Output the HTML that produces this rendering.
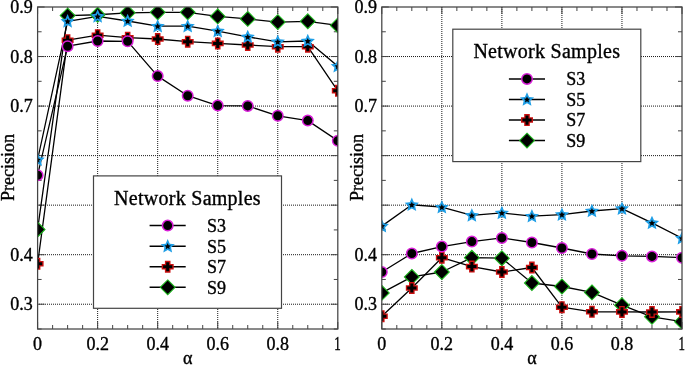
<!DOCTYPE html>
<html><head><meta charset="utf-8"><style>
html,body{margin:0;padding:0;background:#fff;width:685px;height:366px;overflow:hidden}
svg{display:block}
text{font-family:"Liberation Serif","DejaVu Serif",serif;fill:#000;stroke:#000;stroke-width:0.35px}
</style></head><body>
<svg width="685" height="366" viewBox="0 0 685 366">
<defs>
<clipPath id="c0"><rect x="37.6" y="7" width="300.2" height="322"/></clipPath>
<clipPath id="c1"><rect x="381.8" y="7" width="300.2" height="322"/></clipPath>
</defs>
<rect width="685" height="366" fill="#fff"/>
<path d="M97.64 7V329M157.68 7V329M217.72 7V329M277.76 7V329M37 56.54H337.8M37 106.08H337.8M37 155.62H337.8M37 205.15H337.8M37 254.69H337.8M37 304.23H337.8" stroke="#1a1a1a" stroke-width="1" stroke-dasharray="1 1" fill="none"/>
<path d="M37.6 329v-7M37.6 7v7M52.61 329v-4M52.61 7v4M67.62 329v-4M67.62 7v4M82.63 329v-4M82.63 7v4M97.64 329v-7M97.64 7v7M112.65 329v-4M112.65 7v4M127.66 329v-4M127.66 7v4M142.67 329v-4M142.67 7v4M157.68 329v-7M157.68 7v7M172.69 329v-4M172.69 7v4M187.7 329v-4M187.7 7v4M202.71 329v-4M202.71 7v4M217.72 329v-7M217.72 7v7M232.73 329v-4M232.73 7v4M247.74 329v-4M247.74 7v4M262.75 329v-4M262.75 7v4M277.76 329v-7M277.76 7v7M292.77 329v-4M292.77 7v4M307.78 329v-4M307.78 7v4M322.79 329v-4M322.79 7v4M337.8 329v-7M337.8 7v7M37.6 7h7M337.8 7h-7M37.6 31.77h4M337.8 31.77h-4M37.6 56.54h7M337.8 56.54h-7M37.6 81.31h4M337.8 81.31h-4M37.6 106.08h7M337.8 106.08h-7M37.6 130.85h4M337.8 130.85h-4M37.6 155.62h7M337.8 155.62h-7M37.6 180.38h4M337.8 180.38h-4M37.6 205.15h7M337.8 205.15h-7M37.6 229.92h4M337.8 229.92h-4M37.6 254.69h7M337.8 254.69h-7M37.6 279.46h4M337.8 279.46h-4M37.6 304.23h7M337.8 304.23h-7M37.6 329h4M337.8 329h-4" stroke="#444" stroke-width="1" fill="none"/>
<g clip-path="url(#c0)">
<polyline points="37.6,229.5 67.62,15.6 97.64,14.75 127.66,12.8 157.68,12.3 187.7,12.3 217.72,16.4 247.74,18.9 277.76,22.1 307.78,21.3 337.8,25.4" fill="none" stroke="#000" stroke-width="1.3" stroke-linejoin="round"/>
<polyline points="37.6,263.8 67.62,40.2 97.64,35.2 127.66,37.7 157.68,39 187.7,41.7 217.72,43.4 247.74,45 277.76,46.7 307.78,46.7 337.8,90.8" fill="none" stroke="#000" stroke-width="1.3" stroke-linejoin="round"/>
<polyline points="37.6,159.7 67.62,21.3 97.64,16.4 127.66,21 157.68,26.2 187.7,26.2 217.72,31.1 247.74,36.9 277.76,41.8 307.78,41 337.8,66.2" fill="none" stroke="#000" stroke-width="1.3" stroke-linejoin="round"/>
<polyline points="37.6,175.2 67.62,46.2 97.64,41 127.66,41.3 157.68,76.1 187.7,95.7 217.72,105.6 247.74,105.9 277.76,115.8 307.78,120.6 337.8,140.7" fill="none" stroke="#000" stroke-width="1.3" stroke-linejoin="round"/>
<polygon points="37.6,222.1 45,229.5 37.6,236.9 30.2,229.5" fill="#000" stroke="#1cb41c" stroke-width="1.1"/>
<polygon points="67.62,8.2 75.02,15.6 67.62,23 60.22,15.6" fill="#000" stroke="#1cb41c" stroke-width="1.1"/>
<polygon points="97.64,7.35 105.04,14.75 97.64,22.15 90.24,14.75" fill="#000" stroke="#1cb41c" stroke-width="1.1"/>
<polygon points="127.66,5.4 135.06,12.8 127.66,20.2 120.26,12.8" fill="#000" stroke="#1cb41c" stroke-width="1.1"/>
<polygon points="157.68,4.9 165.08,12.3 157.68,19.7 150.28,12.3" fill="#000" stroke="#1cb41c" stroke-width="1.1"/>
<polygon points="187.7,4.9 195.1,12.3 187.7,19.7 180.3,12.3" fill="#000" stroke="#1cb41c" stroke-width="1.1"/>
<polygon points="217.72,9 225.12,16.4 217.72,23.8 210.32,16.4" fill="#000" stroke="#1cb41c" stroke-width="1.1"/>
<polygon points="247.74,11.5 255.14,18.9 247.74,26.3 240.34,18.9" fill="#000" stroke="#1cb41c" stroke-width="1.1"/>
<polygon points="277.76,14.7 285.16,22.1 277.76,29.5 270.36,22.1" fill="#000" stroke="#1cb41c" stroke-width="1.1"/>
<polygon points="307.78,13.9 315.18,21.3 307.78,28.7 300.38,21.3" fill="#000" stroke="#1cb41c" stroke-width="1.1"/>
<polygon points="337.8,18 345.2,25.4 337.8,32.8 330.4,25.4" fill="#000" stroke="#1cb41c" stroke-width="1.1"/>
<path d="M34.8 257.8h5.6v3.2h3.2v5.6h-3.2v3.2h-5.6v-3.2h-3.2v-5.6h3.2z" fill="#cc1010"/><path d="M36.1 259.2h3v3.1h3.1v3h-3.1v3.1h-3v-3.1h-3.1v-3h3.1z" fill="#000"/>
<path d="M64.82 34.2h5.6v3.2h3.2v5.6h-3.2v3.2h-5.6v-3.2h-3.2v-5.6h3.2z" fill="#cc1010"/><path d="M66.12 35.6h3v3.1h3.1v3h-3.1v3.1h-3v-3.1h-3.1v-3h3.1z" fill="#000"/>
<path d="M94.84 29.2h5.6v3.2h3.2v5.6h-3.2v3.2h-5.6v-3.2h-3.2v-5.6h3.2z" fill="#cc1010"/><path d="M96.14 30.6h3v3.1h3.1v3h-3.1v3.1h-3v-3.1h-3.1v-3h3.1z" fill="#000"/>
<path d="M124.86 31.7h5.6v3.2h3.2v5.6h-3.2v3.2h-5.6v-3.2h-3.2v-5.6h3.2z" fill="#cc1010"/><path d="M126.16 33.1h3v3.1h3.1v3h-3.1v3.1h-3v-3.1h-3.1v-3h3.1z" fill="#000"/>
<path d="M154.88 33h5.6v3.2h3.2v5.6h-3.2v3.2h-5.6v-3.2h-3.2v-5.6h3.2z" fill="#cc1010"/><path d="M156.18 34.4h3v3.1h3.1v3h-3.1v3.1h-3v-3.1h-3.1v-3h3.1z" fill="#000"/>
<path d="M184.9 35.7h5.6v3.2h3.2v5.6h-3.2v3.2h-5.6v-3.2h-3.2v-5.6h3.2z" fill="#cc1010"/><path d="M186.2 37.1h3v3.1h3.1v3h-3.1v3.1h-3v-3.1h-3.1v-3h3.1z" fill="#000"/>
<path d="M214.92 37.4h5.6v3.2h3.2v5.6h-3.2v3.2h-5.6v-3.2h-3.2v-5.6h3.2z" fill="#cc1010"/><path d="M216.22 38.8h3v3.1h3.1v3h-3.1v3.1h-3v-3.1h-3.1v-3h3.1z" fill="#000"/>
<path d="M244.94 39h5.6v3.2h3.2v5.6h-3.2v3.2h-5.6v-3.2h-3.2v-5.6h3.2z" fill="#cc1010"/><path d="M246.24 40.4h3v3.1h3.1v3h-3.1v3.1h-3v-3.1h-3.1v-3h3.1z" fill="#000"/>
<path d="M274.96 40.7h5.6v3.2h3.2v5.6h-3.2v3.2h-5.6v-3.2h-3.2v-5.6h3.2z" fill="#cc1010"/><path d="M276.26 42.1h3v3.1h3.1v3h-3.1v3.1h-3v-3.1h-3.1v-3h3.1z" fill="#000"/>
<path d="M304.98 40.7h5.6v3.2h3.2v5.6h-3.2v3.2h-5.6v-3.2h-3.2v-5.6h3.2z" fill="#cc1010"/><path d="M306.28 42.1h3v3.1h3.1v3h-3.1v3.1h-3v-3.1h-3.1v-3h3.1z" fill="#000"/>
<path d="M335 84.8h5.6v3.2h3.2v5.6h-3.2v3.2h-5.6v-3.2h-3.2v-5.6h3.2z" fill="#cc1010"/><path d="M336.3 86.2h3v3.1h3.1v3h-3.1v3.1h-3v-3.1h-3.1v-3h3.1z" fill="#000"/>
<polygon points="37.6,152.5 39.66,157.17 44.73,157.68 40.93,161.08 42.01,166.07 37.6,163.5 33.19,166.07 34.27,161.08 30.47,157.68 35.54,157.17" fill="#1e9ee6"/><polygon points="37.6,156.6 38.54,158.71 40.83,158.95 39.12,160.49 39.6,162.75 37.6,161.6 35.6,162.75 36.08,160.49 34.37,158.95 36.66,158.71" fill="#000"/>
<polygon points="67.62,14.1 69.68,18.77 74.75,19.28 70.95,22.68 72.03,27.67 67.62,25.1 63.21,27.67 64.29,22.68 60.49,19.28 65.56,18.77" fill="#1e9ee6"/><polygon points="67.62,18.2 68.56,20.31 70.85,20.55 69.14,22.09 69.62,24.35 67.62,23.2 65.62,24.35 66.1,22.09 64.39,20.55 66.68,20.31" fill="#000"/>
<polygon points="97.64,9.2 99.7,13.87 104.77,14.38 100.97,17.78 102.05,22.77 97.64,20.2 93.23,22.77 94.31,17.78 90.51,14.38 95.58,13.87" fill="#1e9ee6"/><polygon points="97.64,13.3 98.58,15.41 100.87,15.65 99.16,17.19 99.64,19.45 97.64,18.3 95.64,19.45 96.12,17.19 94.41,15.65 96.7,15.41" fill="#000"/>
<polygon points="127.66,13.8 129.72,18.47 134.79,18.98 130.99,22.38 132.07,27.37 127.66,24.8 123.25,27.37 124.33,22.38 120.53,18.98 125.6,18.47" fill="#1e9ee6"/><polygon points="127.66,17.9 128.6,20.01 130.89,20.25 129.18,21.79 129.66,24.05 127.66,22.9 125.66,24.05 126.14,21.79 124.43,20.25 126.72,20.01" fill="#000"/>
<polygon points="157.68,19 159.74,23.67 164.81,24.18 161.01,27.58 162.09,32.57 157.68,30 153.27,32.57 154.35,27.58 150.55,24.18 155.62,23.67" fill="#1e9ee6"/><polygon points="157.68,23.1 158.62,25.21 160.91,25.45 159.2,26.99 159.68,29.25 157.68,28.1 155.68,29.25 156.16,26.99 154.45,25.45 156.74,25.21" fill="#000"/>
<polygon points="187.7,19 189.76,23.67 194.83,24.18 191.03,27.58 192.11,32.57 187.7,30 183.29,32.57 184.37,27.58 180.57,24.18 185.64,23.67" fill="#1e9ee6"/><polygon points="187.7,23.1 188.64,25.21 190.93,25.45 189.22,26.99 189.7,29.25 187.7,28.1 185.7,29.25 186.18,26.99 184.47,25.45 186.76,25.21" fill="#000"/>
<polygon points="217.72,23.9 219.78,28.57 224.85,29.08 221.05,32.48 222.13,37.47 217.72,34.9 213.31,37.47 214.39,32.48 210.59,29.08 215.66,28.57" fill="#1e9ee6"/><polygon points="217.72,28 218.66,30.11 220.95,30.35 219.24,31.89 219.72,34.15 217.72,33 215.72,34.15 216.2,31.89 214.49,30.35 216.78,30.11" fill="#000"/>
<polygon points="247.74,29.7 249.8,34.37 254.87,34.88 251.07,38.28 252.15,43.27 247.74,40.7 243.33,43.27 244.41,38.28 240.61,34.88 245.68,34.37" fill="#1e9ee6"/><polygon points="247.74,33.8 248.68,35.91 250.97,36.15 249.26,37.69 249.74,39.95 247.74,38.8 245.74,39.95 246.22,37.69 244.51,36.15 246.8,35.91" fill="#000"/>
<polygon points="277.76,34.6 279.82,39.27 284.89,39.78 281.09,43.18 282.17,48.17 277.76,45.6 273.35,48.17 274.43,43.18 270.63,39.78 275.7,39.27" fill="#1e9ee6"/><polygon points="277.76,38.7 278.7,40.81 280.99,41.05 279.28,42.59 279.76,44.85 277.76,43.7 275.76,44.85 276.24,42.59 274.53,41.05 276.82,40.81" fill="#000"/>
<polygon points="307.78,33.8 309.84,38.47 314.91,38.98 311.11,42.38 312.19,47.37 307.78,44.8 303.37,47.37 304.45,42.38 300.65,38.98 305.72,38.47" fill="#1e9ee6"/><polygon points="307.78,37.9 308.72,40.01 311.01,40.25 309.3,41.79 309.78,44.05 307.78,42.9 305.78,44.05 306.26,41.79 304.55,40.25 306.84,40.01" fill="#000"/>
<polygon points="337.8,59 339.86,63.67 344.93,64.18 341.13,67.58 342.21,72.57 337.8,70 333.39,72.57 334.47,67.58 330.67,64.18 335.74,63.67" fill="#1e9ee6"/><polygon points="337.8,63.1 338.74,65.21 341.03,65.45 339.32,66.99 339.8,69.25 337.8,68.1 335.8,69.25 336.28,66.99 334.57,65.45 336.86,65.21" fill="#000"/>
<circle cx="37.6" cy="175.2" r="5.25" fill="#000" stroke="#d81ed8" stroke-width="1.5"/>
<circle cx="67.62" cy="46.2" r="5.25" fill="#000" stroke="#d81ed8" stroke-width="1.5"/>
<circle cx="97.64" cy="41" r="5.25" fill="#000" stroke="#d81ed8" stroke-width="1.5"/>
<circle cx="127.66" cy="41.3" r="5.25" fill="#000" stroke="#d81ed8" stroke-width="1.5"/>
<circle cx="157.68" cy="76.1" r="5.25" fill="#000" stroke="#d81ed8" stroke-width="1.5"/>
<circle cx="187.7" cy="95.7" r="5.25" fill="#000" stroke="#d81ed8" stroke-width="1.5"/>
<circle cx="217.72" cy="105.6" r="5.25" fill="#000" stroke="#d81ed8" stroke-width="1.5"/>
<circle cx="247.74" cy="105.9" r="5.25" fill="#000" stroke="#d81ed8" stroke-width="1.5"/>
<circle cx="277.76" cy="115.8" r="5.25" fill="#000" stroke="#d81ed8" stroke-width="1.5"/>
<circle cx="307.78" cy="120.6" r="5.25" fill="#000" stroke="#d81ed8" stroke-width="1.5"/>
<circle cx="337.8" cy="140.7" r="5.25" fill="#000" stroke="#d81ed8" stroke-width="1.5"/>
</g>
<rect x="37.6" y="7" width="300.2" height="322" fill="none" stroke="#444" stroke-width="1.25"/>
<g font-size="18"><text x="32.8" y="13" text-anchor="end">0.9</text><text x="32.8" y="62.54" text-anchor="end">0.8</text><text x="32.8" y="112.08" text-anchor="end">0.7</text><text x="32.8" y="260.69" text-anchor="end">0.4</text><text x="32.8" y="310.23" text-anchor="end">0.3</text><text x="37.6" y="350" text-anchor="middle">0</text><text x="97.64" y="350" text-anchor="middle">0.2</text><text x="157.68" y="350" text-anchor="middle">0.4</text><text x="217.72" y="350" text-anchor="middle">0.6</text><text x="277.76" y="350" text-anchor="middle">0.8</text><text transform="translate(337.6,349.8) scale(0.72,1)" text-anchor="middle">1</text></g>
<text x="187.7" y="364" font-size="18" text-anchor="middle">&#945;</text>
<text transform="translate(14.2,167.4) rotate(-90)" font-size="18" text-anchor="middle">Precision</text>
<path d="M441.84 7V329M501.88 7V329M561.92 7V329M621.96 7V329M381 56.54H682M381 106.08H682M381 155.62H682M381 205.15H682M381 254.69H682M381 304.23H682" stroke="#1a1a1a" stroke-width="1" stroke-dasharray="1 1" fill="none"/>
<path d="M381.8 329v-7M381.8 7v7M396.81 329v-4M396.81 7v4M411.82 329v-4M411.82 7v4M426.83 329v-4M426.83 7v4M441.84 329v-7M441.84 7v7M456.85 329v-4M456.85 7v4M471.86 329v-4M471.86 7v4M486.87 329v-4M486.87 7v4M501.88 329v-7M501.88 7v7M516.89 329v-4M516.89 7v4M531.9 329v-4M531.9 7v4M546.91 329v-4M546.91 7v4M561.92 329v-7M561.92 7v7M576.93 329v-4M576.93 7v4M591.94 329v-4M591.94 7v4M606.95 329v-4M606.95 7v4M621.96 329v-7M621.96 7v7M636.97 329v-4M636.97 7v4M651.98 329v-4M651.98 7v4M666.99 329v-4M666.99 7v4M682 329v-7M682 7v7M381.8 7h7M682 7h-7M381.8 31.77h4M682 31.77h-4M381.8 56.54h7M682 56.54h-7M381.8 81.31h4M682 81.31h-4M381.8 106.08h7M682 106.08h-7M381.8 130.85h4M682 130.85h-4M381.8 155.62h7M682 155.62h-7M381.8 180.38h4M682 180.38h-4M381.8 205.15h7M682 205.15h-7M381.8 229.92h4M682 229.92h-4M381.8 254.69h7M682 254.69h-7M381.8 279.46h4M682 279.46h-4M381.8 304.23h7M682 304.23h-7M381.8 329h4M682 329h-4" stroke="#444" stroke-width="1" fill="none"/>
<g clip-path="url(#c1)">
<polyline points="381.8,292.9 411.82,276.9 441.84,272 471.86,257.7 501.88,258.2 531.9,283 561.92,286.5 591.94,292.4 621.96,305.2 651.98,316.8 682,321.7" fill="none" stroke="#000" stroke-width="1.3" stroke-linejoin="round"/>
<polyline points="381.8,316.2 411.82,288 441.84,257.7 471.86,266.6 501.88,272 531.9,267.5 561.92,307.2 591.94,311.8 621.96,311.9 651.98,312 682,311.9" fill="none" stroke="#000" stroke-width="1.3" stroke-linejoin="round"/>
<polyline points="381.8,226.1 411.82,204.75 441.84,207.2 471.86,215.4 501.88,212.95 531.9,216.2 561.92,214.6 591.94,211 621.96,208.6 651.98,222.9 682,238.2" fill="none" stroke="#000" stroke-width="1.3" stroke-linejoin="round"/>
<polyline points="381.8,272 411.82,253.5 441.84,246.6 471.86,241.6 501.88,237.9 531.9,242.5 561.92,248 591.94,254 621.96,255.8 651.98,256.4 682,257.7" fill="none" stroke="#000" stroke-width="1.3" stroke-linejoin="round"/>
<polygon points="381.8,285.5 389.2,292.9 381.8,300.3 374.4,292.9" fill="#000" stroke="#1cb41c" stroke-width="1.1"/>
<polygon points="411.82,269.5 419.22,276.9 411.82,284.3 404.42,276.9" fill="#000" stroke="#1cb41c" stroke-width="1.1"/>
<polygon points="441.84,264.6 449.24,272 441.84,279.4 434.44,272" fill="#000" stroke="#1cb41c" stroke-width="1.1"/>
<polygon points="471.86,250.3 479.26,257.7 471.86,265.1 464.46,257.7" fill="#000" stroke="#1cb41c" stroke-width="1.1"/>
<polygon points="501.88,250.8 509.28,258.2 501.88,265.6 494.48,258.2" fill="#000" stroke="#1cb41c" stroke-width="1.1"/>
<polygon points="531.9,275.6 539.3,283 531.9,290.4 524.5,283" fill="#000" stroke="#1cb41c" stroke-width="1.1"/>
<polygon points="561.92,279.1 569.32,286.5 561.92,293.9 554.52,286.5" fill="#000" stroke="#1cb41c" stroke-width="1.1"/>
<polygon points="591.94,285 599.34,292.4 591.94,299.8 584.54,292.4" fill="#000" stroke="#1cb41c" stroke-width="1.1"/>
<polygon points="621.96,297.8 629.36,305.2 621.96,312.6 614.56,305.2" fill="#000" stroke="#1cb41c" stroke-width="1.1"/>
<polygon points="651.98,309.4 659.38,316.8 651.98,324.2 644.58,316.8" fill="#000" stroke="#1cb41c" stroke-width="1.1"/>
<polygon points="682,314.3 689.4,321.7 682,329.1 674.6,321.7" fill="#000" stroke="#1cb41c" stroke-width="1.1"/>
<path d="M379 310.2h5.6v3.2h3.2v5.6h-3.2v3.2h-5.6v-3.2h-3.2v-5.6h3.2z" fill="#cc1010"/><path d="M380.3 311.6h3v3.1h3.1v3h-3.1v3.1h-3v-3.1h-3.1v-3h3.1z" fill="#000"/>
<path d="M409.02 282h5.6v3.2h3.2v5.6h-3.2v3.2h-5.6v-3.2h-3.2v-5.6h3.2z" fill="#cc1010"/><path d="M410.32 283.4h3v3.1h3.1v3h-3.1v3.1h-3v-3.1h-3.1v-3h3.1z" fill="#000"/>
<path d="M439.04 251.7h5.6v3.2h3.2v5.6h-3.2v3.2h-5.6v-3.2h-3.2v-5.6h3.2z" fill="#cc1010"/><path d="M440.34 253.1h3v3.1h3.1v3h-3.1v3.1h-3v-3.1h-3.1v-3h3.1z" fill="#000"/>
<path d="M469.06 260.6h5.6v3.2h3.2v5.6h-3.2v3.2h-5.6v-3.2h-3.2v-5.6h3.2z" fill="#cc1010"/><path d="M470.36 262h3v3.1h3.1v3h-3.1v3.1h-3v-3.1h-3.1v-3h3.1z" fill="#000"/>
<path d="M499.08 266h5.6v3.2h3.2v5.6h-3.2v3.2h-5.6v-3.2h-3.2v-5.6h3.2z" fill="#cc1010"/><path d="M500.38 267.4h3v3.1h3.1v3h-3.1v3.1h-3v-3.1h-3.1v-3h3.1z" fill="#000"/>
<path d="M529.1 261.5h5.6v3.2h3.2v5.6h-3.2v3.2h-5.6v-3.2h-3.2v-5.6h3.2z" fill="#cc1010"/><path d="M530.4 262.9h3v3.1h3.1v3h-3.1v3.1h-3v-3.1h-3.1v-3h3.1z" fill="#000"/>
<path d="M559.12 301.2h5.6v3.2h3.2v5.6h-3.2v3.2h-5.6v-3.2h-3.2v-5.6h3.2z" fill="#cc1010"/><path d="M560.42 302.6h3v3.1h3.1v3h-3.1v3.1h-3v-3.1h-3.1v-3h3.1z" fill="#000"/>
<path d="M589.14 305.8h5.6v3.2h3.2v5.6h-3.2v3.2h-5.6v-3.2h-3.2v-5.6h3.2z" fill="#cc1010"/><path d="M590.44 307.2h3v3.1h3.1v3h-3.1v3.1h-3v-3.1h-3.1v-3h3.1z" fill="#000"/>
<path d="M619.16 305.9h5.6v3.2h3.2v5.6h-3.2v3.2h-5.6v-3.2h-3.2v-5.6h3.2z" fill="#cc1010"/><path d="M620.46 307.3h3v3.1h3.1v3h-3.1v3.1h-3v-3.1h-3.1v-3h3.1z" fill="#000"/>
<path d="M649.18 306h5.6v3.2h3.2v5.6h-3.2v3.2h-5.6v-3.2h-3.2v-5.6h3.2z" fill="#cc1010"/><path d="M650.48 307.4h3v3.1h3.1v3h-3.1v3.1h-3v-3.1h-3.1v-3h3.1z" fill="#000"/>
<path d="M679.2 305.9h5.6v3.2h3.2v5.6h-3.2v3.2h-5.6v-3.2h-3.2v-5.6h3.2z" fill="#cc1010"/><path d="M680.5 307.3h3v3.1h3.1v3h-3.1v3.1h-3v-3.1h-3.1v-3h3.1z" fill="#000"/>
<polygon points="381.8,218.9 383.86,223.57 388.93,224.08 385.13,227.48 386.21,232.47 381.8,229.9 377.39,232.47 378.47,227.48 374.67,224.08 379.74,223.57" fill="#1e9ee6"/><polygon points="381.8,223 382.74,225.11 385.03,225.35 383.32,226.89 383.8,229.15 381.8,228 379.8,229.15 380.28,226.89 378.57,225.35 380.86,225.11" fill="#000"/>
<polygon points="411.82,197.55 413.88,202.22 418.95,202.73 415.15,206.13 416.23,211.12 411.82,208.55 407.41,211.12 408.49,206.13 404.69,202.73 409.76,202.22" fill="#1e9ee6"/><polygon points="411.82,201.65 412.76,203.76 415.05,204 413.34,205.54 413.82,207.8 411.82,206.65 409.82,207.8 410.3,205.54 408.59,204 410.88,203.76" fill="#000"/>
<polygon points="441.84,200 443.9,204.67 448.97,205.18 445.17,208.58 446.25,213.57 441.84,211 437.43,213.57 438.51,208.58 434.71,205.18 439.78,204.67" fill="#1e9ee6"/><polygon points="441.84,204.1 442.78,206.21 445.07,206.45 443.36,207.99 443.84,210.25 441.84,209.1 439.84,210.25 440.32,207.99 438.61,206.45 440.9,206.21" fill="#000"/>
<polygon points="471.86,208.2 473.92,212.87 478.99,213.38 475.19,216.78 476.27,221.77 471.86,219.2 467.45,221.77 468.53,216.78 464.73,213.38 469.8,212.87" fill="#1e9ee6"/><polygon points="471.86,212.3 472.8,214.41 475.09,214.65 473.38,216.19 473.86,218.45 471.86,217.3 469.86,218.45 470.34,216.19 468.63,214.65 470.92,214.41" fill="#000"/>
<polygon points="501.88,205.75 503.94,210.42 509.01,210.93 505.21,214.33 506.29,219.32 501.88,216.75 497.47,219.32 498.55,214.33 494.75,210.93 499.82,210.42" fill="#1e9ee6"/><polygon points="501.88,209.85 502.82,211.96 505.11,212.2 503.4,213.74 503.88,216 501.88,214.85 499.88,216 500.36,213.74 498.65,212.2 500.94,211.96" fill="#000"/>
<polygon points="531.9,209 533.96,213.67 539.03,214.18 535.23,217.58 536.31,222.57 531.9,220 527.49,222.57 528.57,217.58 524.77,214.18 529.84,213.67" fill="#1e9ee6"/><polygon points="531.9,213.1 532.84,215.21 535.13,215.45 533.42,216.99 533.9,219.25 531.9,218.1 529.9,219.25 530.38,216.99 528.67,215.45 530.96,215.21" fill="#000"/>
<polygon points="561.92,207.4 563.98,212.07 569.05,212.58 565.25,215.98 566.33,220.97 561.92,218.4 557.51,220.97 558.59,215.98 554.79,212.58 559.86,212.07" fill="#1e9ee6"/><polygon points="561.92,211.5 562.86,213.61 565.15,213.85 563.44,215.39 563.92,217.65 561.92,216.5 559.92,217.65 560.4,215.39 558.69,213.85 560.98,213.61" fill="#000"/>
<polygon points="591.94,203.8 594,208.47 599.07,208.98 595.27,212.38 596.35,217.37 591.94,214.8 587.53,217.37 588.61,212.38 584.81,208.98 589.88,208.47" fill="#1e9ee6"/><polygon points="591.94,207.9 592.88,210.01 595.17,210.25 593.46,211.79 593.94,214.05 591.94,212.9 589.94,214.05 590.42,211.79 588.71,210.25 591,210.01" fill="#000"/>
<polygon points="621.96,201.4 624.02,206.07 629.09,206.58 625.29,209.98 626.37,214.97 621.96,212.4 617.55,214.97 618.63,209.98 614.83,206.58 619.9,206.07" fill="#1e9ee6"/><polygon points="621.96,205.5 622.9,207.61 625.19,207.85 623.48,209.39 623.96,211.65 621.96,210.5 619.96,211.65 620.44,209.39 618.73,207.85 621.02,207.61" fill="#000"/>
<polygon points="651.98,215.7 654.04,220.37 659.11,220.88 655.31,224.28 656.39,229.27 651.98,226.7 647.57,229.27 648.65,224.28 644.85,220.88 649.92,220.37" fill="#1e9ee6"/><polygon points="651.98,219.8 652.92,221.91 655.21,222.15 653.5,223.69 653.98,225.95 651.98,224.8 649.98,225.95 650.46,223.69 648.75,222.15 651.04,221.91" fill="#000"/>
<polygon points="682,231 684.06,235.67 689.13,236.18 685.33,239.58 686.41,244.57 682,242 677.59,244.57 678.67,239.58 674.87,236.18 679.94,235.67" fill="#1e9ee6"/><polygon points="682,235.1 682.94,237.21 685.23,237.45 683.52,238.99 684,241.25 682,240.1 680,241.25 680.48,238.99 678.77,237.45 681.06,237.21" fill="#000"/>
<circle cx="381.8" cy="272" r="5.25" fill="#000" stroke="#d81ed8" stroke-width="1.5"/>
<circle cx="411.82" cy="253.5" r="5.25" fill="#000" stroke="#d81ed8" stroke-width="1.5"/>
<circle cx="441.84" cy="246.6" r="5.25" fill="#000" stroke="#d81ed8" stroke-width="1.5"/>
<circle cx="471.86" cy="241.6" r="5.25" fill="#000" stroke="#d81ed8" stroke-width="1.5"/>
<circle cx="501.88" cy="237.9" r="5.25" fill="#000" stroke="#d81ed8" stroke-width="1.5"/>
<circle cx="531.9" cy="242.5" r="5.25" fill="#000" stroke="#d81ed8" stroke-width="1.5"/>
<circle cx="561.92" cy="248" r="5.25" fill="#000" stroke="#d81ed8" stroke-width="1.5"/>
<circle cx="591.94" cy="254" r="5.25" fill="#000" stroke="#d81ed8" stroke-width="1.5"/>
<circle cx="621.96" cy="255.8" r="5.25" fill="#000" stroke="#d81ed8" stroke-width="1.5"/>
<circle cx="651.98" cy="256.4" r="5.25" fill="#000" stroke="#d81ed8" stroke-width="1.5"/>
<circle cx="682" cy="257.7" r="5.25" fill="#000" stroke="#d81ed8" stroke-width="1.5"/>
</g>
<rect x="381.8" y="7" width="300.2" height="322" fill="none" stroke="#444" stroke-width="1.25"/>
<g font-size="18"><text x="377" y="13" text-anchor="end">0.9</text><text x="377" y="62.54" text-anchor="end">0.8</text><text x="377" y="112.08" text-anchor="end">0.7</text><text x="377" y="260.69" text-anchor="end">0.4</text><text x="377" y="310.23" text-anchor="end">0.3</text><text x="381.8" y="350" text-anchor="middle">0</text><text x="441.84" y="350" text-anchor="middle">0.2</text><text x="501.88" y="350" text-anchor="middle">0.4</text><text x="561.92" y="350" text-anchor="middle">0.6</text><text x="621.96" y="350" text-anchor="middle">0.8</text><text transform="translate(681.8,349.8) scale(0.72,1)" text-anchor="middle">1</text></g>
<text x="531.9" y="364" font-size="18" text-anchor="middle">&#945;</text>
<text transform="translate(362.5,167.4) rotate(-90)" font-size="18" text-anchor="middle">Precision</text>
<rect x="93.5" y="175.9" width="188" height="132.4" fill="#fff" stroke="#444" stroke-width="1.2"/>
<text x="187.5" y="204.8" font-size="20" letter-spacing="0.27" text-anchor="middle">Network Samples</text>
<path d="M149.6 225.6H185.7" stroke="#000" stroke-width="1.5"/>
<circle cx="167.7" cy="225.6" r="5.25" fill="#000" stroke="#d81ed8" stroke-width="1.5"/>
<text x="207" y="232" font-size="18">S3</text>
<path d="M149.6 246.17H185.7" stroke="#000" stroke-width="1.5"/>
<polygon points="167.7,238.97 169.76,243.64 174.83,244.15 171.03,247.55 172.11,252.54 167.7,249.97 163.29,252.54 164.37,247.55 160.57,244.15 165.64,243.64" fill="#1e9ee6"/><polygon points="167.7,243.07 168.64,245.18 170.93,245.42 169.22,246.96 169.7,249.22 167.7,248.07 165.7,249.22 166.18,246.96 164.47,245.42 166.76,245.18" fill="#000"/>
<text x="207" y="252.57" font-size="18">S5</text>
<path d="M149.6 266.74H185.7" stroke="#000" stroke-width="1.5"/>
<path d="M164.9 260.74h5.6v3.2h3.2v5.6h-3.2v3.2h-5.6v-3.2h-3.2v-5.6h3.2z" fill="#cc1010"/><path d="M166.2 262.14h3v3.1h3.1v3h-3.1v3.1h-3v-3.1h-3.1v-3h3.1z" fill="#000"/>
<text x="207" y="273.14" font-size="18">S7</text>
<path d="M149.6 287.31H185.7" stroke="#000" stroke-width="1.5"/>
<polygon points="167.7,279.91 175.1,287.31 167.7,294.71 160.3,287.31" fill="#000" stroke="#1cb41c" stroke-width="1.1"/>
<text x="207" y="293.71" font-size="18">S9</text>
<rect x="452.8" y="29.2" width="188" height="132.4" fill="#fff" stroke="#444" stroke-width="1.2"/>
<text x="546.8" y="58.1" font-size="20" letter-spacing="0.27" text-anchor="middle">Network Samples</text>
<path d="M508.9 78.9H545" stroke="#000" stroke-width="1.5"/>
<circle cx="527" cy="78.9" r="5.25" fill="#000" stroke="#d81ed8" stroke-width="1.5"/>
<text x="566.3" y="85.3" font-size="18">S3</text>
<path d="M508.9 99.47H545" stroke="#000" stroke-width="1.5"/>
<polygon points="527,92.27 529.06,96.94 534.13,97.45 530.33,100.85 531.41,105.84 527,103.27 522.59,105.84 523.67,100.85 519.87,97.45 524.94,96.94" fill="#1e9ee6"/><polygon points="527,96.37 527.94,98.48 530.23,98.72 528.52,100.26 529,102.52 527,101.37 525,102.52 525.48,100.26 523.77,98.72 526.06,98.48" fill="#000"/>
<text x="566.3" y="105.87" font-size="18">S5</text>
<path d="M508.9 120.04H545" stroke="#000" stroke-width="1.5"/>
<path d="M524.2 114.04h5.6v3.2h3.2v5.6h-3.2v3.2h-5.6v-3.2h-3.2v-5.6h3.2z" fill="#cc1010"/><path d="M525.5 115.44h3v3.1h3.1v3h-3.1v3.1h-3v-3.1h-3.1v-3h3.1z" fill="#000"/>
<text x="566.3" y="126.44" font-size="18">S7</text>
<path d="M508.9 140.61H545" stroke="#000" stroke-width="1.5"/>
<polygon points="527,133.21 534.4,140.61 527,148.01 519.6,140.61" fill="#000" stroke="#1cb41c" stroke-width="1.1"/>
<text x="566.3" y="147.01" font-size="18">S9</text>
</svg>
</body></html>
